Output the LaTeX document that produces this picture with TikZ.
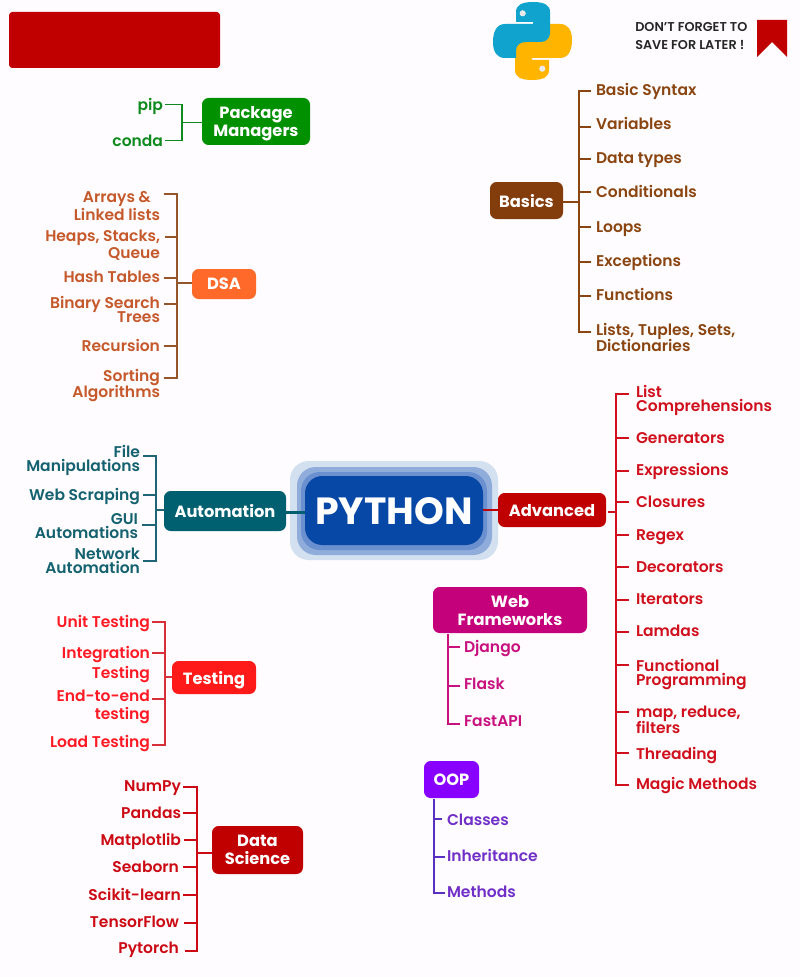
\documentclass[tikz,border=0pt]{standalone}
\usepackage{fontspec}
\setmainfont{Poppins SemiBold}
\newfontfamily\popb{Poppins Bold}
\newcommand\tightlines{\lineskiplimit=-20pt\relax}
\definecolor{bgc}{HTML}{FEFCFE}
\definecolor{HTMLbar}{HTML}{C00000}
\definecolor{HTMLyel}{HTML}{FFB400}
\definecolor{HTMLblu}{HTML}{0FA3CD}
\definecolor{HTMLdark}{HTML}{262626}
\definecolor{HTMLh1}{HTML}{D3E0EF}
\definecolor{HTMLh2}{HTML}{8FACDB}
\definecolor{HTMLh3}{HTML}{6A90CF}
\definecolor{HTMLpy}{HTML}{0747A6}
\definecolor{HTMLteal}{HTML}{006070}
\definecolor{HTMLred}{HTML}{C00000}
\definecolor{HTMLgrt}{HTML}{0E8A1E}
\definecolor{HTMLgrl}{HTML}{108A20}
\definecolor{HTMLgrb}{HTML}{009000}
\definecolor{HTMLdst}{HTML}{C5592B}
\definecolor{HTMLdsl}{HTML}{95552A}
\definecolor{HTMLdsb}{HTML}{FF6A2B}
\definecolor{HTMLatt}{HTML}{14616F}
\definecolor{HTMLatl}{HTML}{1F6575}
\definecolor{HTMLtet}{HTML}{FF1A24}
\definecolor{HTMLtel}{HTML}{D8303A}
\definecolor{HTMLteb}{HTML}{FF1A1A}
\definecolor{HTMLdat}{HTML}{CC0A14}
\definecolor{HTMLbat}{HTML}{8A4510}
\definecolor{HTMLbab}{HTML}{833C0B}
\definecolor{HTMLadt}{HTML}{D0101C}
\definecolor{HTMLwet}{HTML}{C9107F}
\definecolor{HTMLweb}{HTML}{C4007A}
\definecolor{HTMLoot}{HTML}{7030C8}
\definecolor{HTMLool}{HTML}{5A30C0}
\definecolor{HTMLoob}{HTML}{8800FF}
\colorlet{curt}{black}
\colorlet{curl}{black}
\tikzset{
  lab/.style={inner sep=0pt,outer sep=0pt,text=curt,yshift=-0.2pt,font=\fontsize{11.65}{10.5}\selectfont\tightlines},
  R/.style={anchor=base east,align=right},
  L/.style={anchor=base west,align=left},
  C/.style={anchor=base east,align=center},
  conn/.style={draw=curl,line width=1.15pt},
  hubbox/.style={inner sep=0pt,outer sep=0pt,rounded corners=5pt,text=white,align=center,text depth=0pt,font=\popb\fontsize{12.2}{13.5}\selectfont\tightlines},
  halo/.style={inner sep=0pt,outer sep=0pt,rounded corners=14pt},
  maintie/.style={line width=2pt}
}
\newcommand\leaf[5]{\node[lab,#4] (#1) {#5}; \coordinate (#1s) at #3; \draw[conn] (#2) |- (#1s);}
\newcommand\hub[7]{\node[hubbox,fill=#2,minimum width={(#5-#3)*0.75pt},minimum height={(#6-#4)*0.75pt}] (#1) at ({(#3+#5)/2},{(#4+#6)/2}) {#7};}
\newcommand\setc[2]{\colorlet{curt}{#1}\colorlet{curl}{#2}}
\begin{document}
\begin{tikzpicture}[x=0.75pt,y=-0.75pt]
\fill[bgc] (0,0) rectangle (800,977);
\useasboundingbox (0,0) rectangle (800,977);

% title bar
\fill[HTMLbar,rounded corners=2.5pt] (9,12) rectangle (220,68);

% python logo
\begin{scope}
\path[fill=HTMLyel,rotate around={180:(532.5,41)}] (516,22) -- (516,12) .. controls (516,5) and (522,2) .. (533,2) .. controls (544,2) and (550,5) .. (550,12) -- (550,33) .. controls (550,38) and (546,42) .. (541,42) -- (526,42) .. controls (520,42) and (516,45) .. (516,51) -- (516,58) -- (505,58) .. controls (497,58) and (493,52) .. (493,42) .. controls (493,31) and (497,24) .. (505,24) -- (533,24) -- (533,22) -- cycle;
\path[fill=HTMLblu] (516,22) -- (516,12) .. controls (516,5) and (522,2) .. (533,2) .. controls (544,2) and (550,5) .. (550,12) -- (550,33) .. controls (550,38) and (546,42) .. (541,42) -- (526,42) .. controls (520,42) and (516,45) .. (516,51) -- (516,58) -- (505,58) .. controls (497,58) and (493,52) .. (493,42) .. controls (493,31) and (497,24) .. (505,24) -- (533,24) -- (533,22) -- cycle;
\fill[white!92!black] (522.7,13.3) circle (2.3pt);
\fill[white!92!black] (542.3,68.7) circle (2.3pt);
\end{scope}

% save note and bookmark
\node[inner sep=0pt,anchor=base west,align=left,text=HTMLdark,font=\fontsize{9.6}{13.2}\selectfont] (note) at (635,49.5) {DON'T FORGET TO\\SAVE FOR LATER !};
\fill[HTMLbar] (757,20) -- (787,20) -- (787,57) -- (772,42) -- (757,57) -- cycle;

% central node
\node[halo,fill=HTMLh1,minimum width=156pt,minimum height=74.25pt] (h1) at (394,510.5) {};
\node[halo,fill=HTMLh2,minimum width=146.25pt,minimum height=66pt] (h2) at (394.5,511) {};
\node[halo,fill=HTMLh3,minimum width=139.5pt,minimum height=58.5pt] (h3) at (394,511) {};
\hub{auto}{HTMLteal}{164}{491}{286}{531}{Automation}
\hub{adv}{HTMLred}{498}{493}{606}{527}{Advanced}
\draw[HTMLteal,maintie] (auto.east) ++(0,1.5) -- ++(40,0);
\draw[HTMLred,maintie] (adv.west) -- (adv.west -| h1.center);
\node[inner sep=0pt,outer sep=0pt,rounded corners=13pt,fill=HTMLpy,text=white,minimum width=133.5pt,minimum height=51.75pt,text depth=0pt,font=\popb\fontsize{28.4}{28}\selectfont] (python) at (394,510.5) {\raisebox{-0.9pt}{PYTHON}};

% Package managers
\setc{HTMLgrt}{HTMLgrl}
\hub{pm}{HTMLgrb}{202}{98}{310}{145}{Package\\Managers}
\coordinate (pmt) at (182,122.7);
\draw[conn] (pm.west |- pmt) -- (pmt);
\leaf{pip}{pmt}{(165,104.5)}{R,at={(163,110)}}{pip}
\leaf{conda}{pmt}{(165,140.7)}{R,at={(163,146)}}{conda}

% DSA
\setc{HTMLdst}{HTMLdsl}
\hub{dsa}{HTMLdsb}{192}{269}{256}{299}{DSA}
\coordinate (dst) at (177,283);
\draw[conn] (dsa.west |- dst) -- (dst);
\leaf{d1}{dst}{(164,194)}{C,at={(160,220)}}{Arrays \&\\[2.8pt]Linked lists}
\leaf{d2}{dst}{(165,237)}{R,at={(160,258)}}{Heaps, Stacks,\\[2pt]Queue}
\leaf{d3}{dst}{(164,278)}{R,at={(160,282)}}{Hash Tables}
\leaf{d4}{dst}{(164,304)}{R,at={(160,322)}}{Binary Search\\Trees}
\leaf{d5}{dst}{(164,346)}{R,at={(160,351)}}{Recursion}
\leaf{d6}{dst}{(164,378)}{R,at={(160,397)}}{Sorting\\[1.5pt]Algorithms}

% Automation
\setc{HTMLatt}{HTMLatl}
\coordinate (att) at (156,510);
\draw[conn] (auto.west |- att) -- (att);
\leaf{a1}{att}{(143,456)}{R,at={(140,471)}}{File\\Manipulations}
\leaf{a2}{att}{(143,495)}{R,at={(140,500)}}{Web Scraping}
\leaf{a3}{att}{(142,525)}{R,at={(138,538)}}{GUI\\Automations}
\leaf{a4}{att}{(143,561)}{R,at={(140,573)}}{Network\\Automation}

% Testing
\setc{HTMLtet}{HTMLtel}
\hub{test}{HTMLteb}{172}{661}{256}{694}{Testing}
\coordinate (tet) at (165,677);
\draw[conn] (test.west |- tet) -- (tet);
\leaf{t1}{tet}{(152,622)}{R,at={(150,627)}}{Unit Testing}
\leaf{t2}{tet}{(152,653)}{R,at={(150,678)}}{Integration\\[4.5pt]Testing}
\leaf{t3}{tet}{(152,699)}{R,at={(150,719)}}{End-to-end\\[3pt]testing}
\leaf{t4}{tet}{(152,745)}{R,at={(150,747)}}{Load Testing}

% Data science
\setc{HTMLdat}{HTMLdat}
\hub{ds}{HTMLred}{212}{826}{303}{874}{Data\\Science}
\coordinate (dat) at (197,853);
\draw[conn] (ds.west |- dat) -- (dat);
\leaf{s1}{dat}{(183,787)}{R,at={(181,791)}}{NumPy}
\leaf{s2}{dat}{(183,813)}{R,at={(181,818)}}{Pandas}
\leaf{s3}{dat}{(184,840)}{R,at={(181,845)}}{Matplotlib}
\leaf{s4}{dat}{(183,867)}{R,at={(179,872)}}{Seaborn}
\leaf{s5}{dat}{(183,895)}{R,at={(181,900)}}{Scikit-learn}
\leaf{s6}{dat}{(184,923)}{R,at={(179,927)}}{TensorFlow}
\leaf{s7}{dat}{(185,951)}{R,at={(179,953)}}{Pytorch}

% Basics
\setc{HTMLbat}{HTMLbat}
\hub{bas}{HTMLbab}{490}{182}{563}{219}{Basics}
\coordinate (bat) at (579,202);
\draw[conn] (bas.east |- bat) -- (bat);
\leaf{b1}{bat}{(591,91)}{L,at={(596,95.5)}}{Basic Syntax}
\leaf{b2}{bat}{(591,127)}{L,at={(596,129.5)}}{Variables}
\leaf{b3}{bat}{(591,159)}{L,at={(596,163.5)}}{Data types}
\leaf{b4}{bat}{(591,192)}{L,at={(596,197)}}{Conditionals}
\leaf{b5}{bat}{(591,227)}{L,at={(596,232)}}{Loops}
\leaf{b6}{bat}{(591,262)}{L,at={(596,266)}}{Exceptions}
\leaf{b7}{bat}{(591,296)}{L,at={(596,300)}}{Functions}
\leaf{b8}{bat}{(591,332)}{L,at={(596,351)}}{Lists, Tuples, Sets,\\[1.3pt]Dictionaries}

% Advanced
\setc{HTMLadt}{HTMLadt}
\coordinate (adt) at (616,512);
\draw[conn] (adv.east |- adt) ++(2,0) -- (adt);
\leaf{v1}{adt}{(629,394)}{L,at={(636,411)}}{List\\Comprehensions}
\leaf{v2}{adt}{(629,438)}{L,at={(636,443)}}{Generators}
\leaf{v3}{adt}{(629,471)}{L,at={(636,475)}}{Expressions}
\leaf{v4}{adt}{(629,502)}{L,at={(636,507)}}{Closures}
\leaf{v5}{adt}{(629,535)}{L,at={(636,540)}}{Regex}
\leaf{v6}{adt}{(629,567)}{L,at={(636,572)}}{Decorators}
\leaf{v7}{adt}{(629,600)}{L,at={(636,604.5)}}{Iterators}
\leaf{v8}{adt}{(629,632)}{L,at={(636,636.5)}}{Lamdas}
\leaf{v9}{adt}{(629,665)}{L,at={(636,685)}}{Functional\\Programming}
\leaf{v10}{adt}{(629,712)}{L,at={(636,733)}}{map, reduce,\\[1pt]filters}
\leaf{v11}{adt}{(629,753)}{L,at={(636,759)}}{Threading}
\leaf{v12}{adt}{(629,785)}{L,at={(636,789)}}{Magic Methods}

% Web frameworks
\setc{HTMLwet}{HTMLwet}
\hub{web}{HTMLweb}{433}{587}{587}{633}{Web\\Frameworks}
\coordinate (wet) at (448,634);
\leaf{w1}{wet}{(460,647)}{L,at={(464,652)}}{Django}
\leaf{w2}{wet}{(460,686)}{L,at={(464,689)}}{Flask}
\leaf{w3}{wet}{(460,724)}{L,at={(464,726)}}{FastAPI}

% OOP
\setc{HTMLoot}{HTMLool}
\hub{oop}{HTMLoob}{424}{761}{479}{798}{OOP}
\coordinate (oot) at (434,799);
\leaf{o1}{oot}{(442,819)}{L,at={(447,825)}}{Classes}
\leaf{o2}{oot}{(445,857)}{L,at={(447,861)}}{Inheritance}
\leaf{o3}{oot}{(445,893)}{L,at={(447,897)}}{Methods}
\end{tikzpicture}
\end{document}
